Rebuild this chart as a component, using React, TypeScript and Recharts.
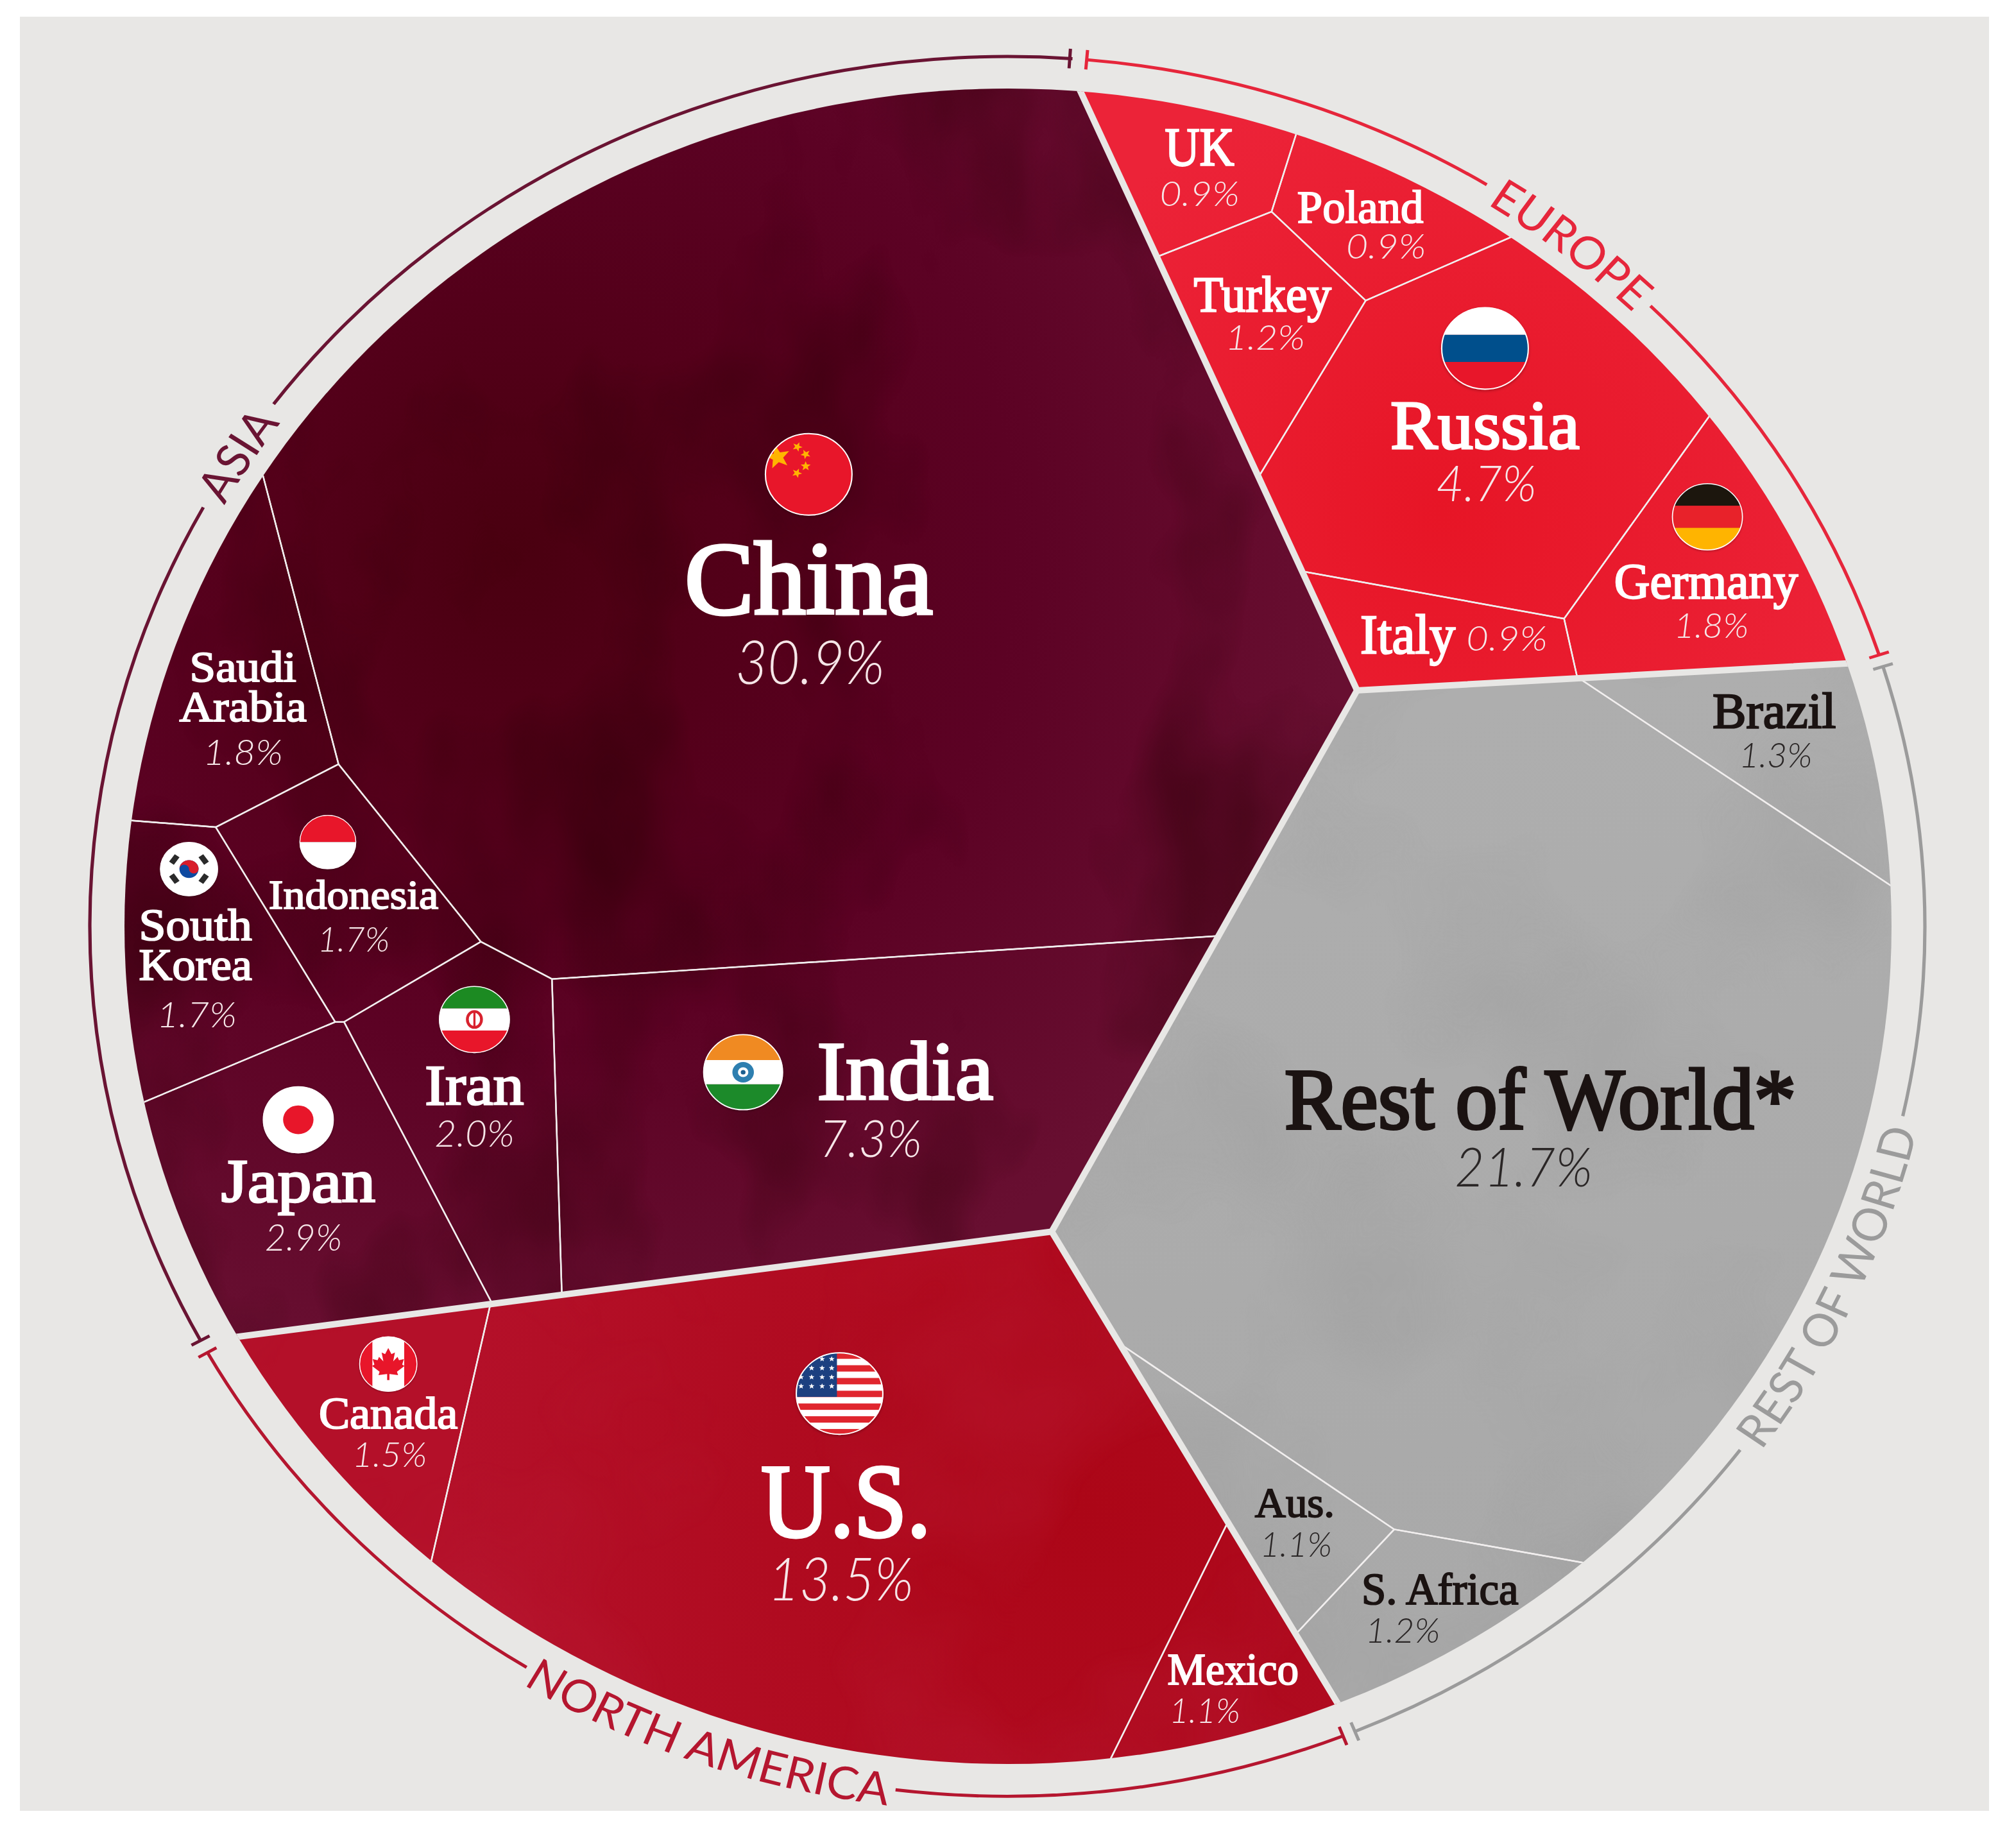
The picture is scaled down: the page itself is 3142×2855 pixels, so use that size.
import { Cell, Pie, PieChart, Scatter, ScatterChart, XAxis, YAxis } from "recharts";

// Values. Outline points are in reference units (1568 x 1425 grid).
const countries = [
  "China", "India", "Japan", "Iran", "Indonesia", "South Korea", "Saudi Arabia",
  "U.S.", "Canada", "Mexico",
  "Russia", "Germany", "Turkey", "UK", "Poland", "Italy",
  "Rest of World", "Brazil", "S. Africa", "Aus.",
];
const shares = [30.9, 7.3, 2.9, 2.0, 1.7, 1.7, 1.8, 13.5, 1.5, 1.1, 4.7, 1.8, 1.2, 0.9, 0.9, 0.9, 21.7, 1.3, 1.2, 1.1];
const regionOf = [
  "asia", "asia", "asia", "asia", "asia", "asia", "asia",
  "northAmerica", "northAmerica", "northAmerica",
  "europe", "europe", "europe", "europe", "europe", "europe",
  "world", "world", "world", "world",
];

const cellOutlines = [
  [[826, 40], [1055.5, 537], [947.8, 728], [429.3, 761.5], [374, 732.5], [263.3, 594.4], [196.7, 340], [100, 100]],
  [[429.3, 761.5], [947.8, 728], [818, 958], [437, 1007.2]],
  [[60, 879], [260.7, 794.9], [267.6, 794.9], [382.9, 1014.2], [100, 1050.7]],
  [[374, 732.5], [429.3, 761.5], [437, 1007.2], [382.9, 1014.2], [267.6, 794.9]],
  [[263.3, 594.4], [374, 732.5], [267.6, 794.9], [260.7, 794.9], [167.8, 643.4]],
  [[167.8, 643.4], [260.7, 794.9], [60, 879], [60, 635], [101.1, 638.1]],
  [[196.7, 340], [263.3, 594.4], [167.8, 643.4], [101.1, 638.1], [60, 635], [60, 340]],
  [[381.4, 1014.6], [818, 958], [955, 1184], [848, 1400], [324.9, 1400], [324.9, 1260]],
  [[100, 1050.7], [381.4, 1014.6], [324.9, 1260], [100, 1260]],
  [[955, 1184], [1098, 1420], [848, 1400]],
  [[980, 369.2], [1062.2, 233.8], [1230, 160.5], [1368, 160.5], [1368, 270], [1216.5, 481.2], [1012.8, 444.4]],
  [[1216.5, 481.2], [1368, 270], [1520, 270], [1520, 511.5], [1226.9, 527.6]],
  [[900, 199.7], [989, 164.6], [1062.2, 233.8], [980, 369.2]],
  [[826, 40], [1019, 40], [1019, 70], [989, 164.6], [900, 199.7]],
  [[1019, 70], [1230, 70], [1230, 160.5], [1062.2, 233.8], [989, 164.6]],
  [[1012.8, 444.4], [1216.5, 481.2], [1226.9, 527.6], [1055.5, 537]],
  [[1055.5, 537], [1228, 527.5], [1520, 721.7], [1520, 1227.6], [1300, 1227.6], [1084.4, 1189.6], [870.8, 1045], [818, 958]],
  [[1228, 527.5], [1520, 511.5], [1520, 721.7]],
  [[1084.4, 1189.6], [1300, 1227.6], [1300, 1420], [1098, 1420], [1008, 1270.9]],
  [[870.8, 1045], [1084.4, 1189.6], [1008, 1270.9]],
];

const regionBorders = [
  [[826, 40], [1055.5, 537], [1520, 511.5]],
  [[1055.5, 537], [818, 958]],
  [[100, 1050.7], [818, 958], [1098, 1420]],
];

// x, baseline y, drawn width (reference units), font size in px
const nameRows = [
  { text: "China", x: 629, y: 477, w: 193, px: 162 },
  { text: "India", x: 704, y: 855, w: 137, px: 130 },
  { text: "Japan", x: 232, y: 935, w: 120, px: 96 },
  { text: "Iran", x: 369, y: 859, w: 77, px: 88 },
  { text: "Indonesia", x: 275, y: 707, w: 132, px: 64 },
  { text: "South", x: 152, y: 731, w: 88, px: 70 },
  { text: "Korea", x: 152, y: 762, w: 88, px: 70 },
  { text: "Saudi", x: 189, y: 530, w: 83, px: 68 },
  { text: "Arabia", x: 189, y: 561, w: 99, px: 68 },
  { text: "U.S.", x: 658, y: 1195, w: 132, px: 164 },
  { text: "Canada", x: 302, y: 1111, w: 108, px: 70 },
  { text: "Mexico", x: 959, y: 1310, w: 102, px: 70 },
  { text: "Russia", x: 1155, y: 349, w: 147, px: 108 },
  { text: "Germany", x: 1327, y: 465, w: 143, px: 78 },
  { text: "Turkey", x: 982, y: 242, w: 107, px: 78 },
  { text: "UK", x: 933, y: 129, w: 54, px: 84 },
  { text: "Poland", x: 1058, y: 173, w: 98, px: 72 },
  { text: "Italy", x: 1095, y: 508, w: 74, px: 86 },
  { text: "Rest of World*", x: 1198, y: 878, w: 398, px: 136 },
  { text: "Brazil", x: 1380, y: 566, w: 96, px: 78 },
  { text: "S. Africa", x: 1120, y: 1248, w: 122, px: 70 },
  { text: "Aus.", x: 1007, y: 1180, w: 62, px: 66 },
];
const shareSpots = [
  { x: 630, y: 532, w: 116, px: 94 },
  { x: 677, y: 900, w: 80, px: 80 },
  { x: 236, y: 973, w: 60, px: 58 },
  { x: 369, y: 892, w: 62, px: 58 },
  { x: 275, y: 740, w: 56, px: 54 },
  { x: 153, y: 799, w: 62, px: 56 },
  { x: 189, y: 595, w: 62, px: 56 },
  { x: 654, y: 1245, w: 113, px: 92 },
  { x: 303, y: 1141, w: 58, px: 54 },
  { x: 937, y: 1340, w: 55, px: 54 },
  { x: 1156, y: 390, w: 78, px: 76 },
  { x: 1331, y: 496, w: 58, px: 54 },
  { x: 984, y: 272, w: 62, px: 54 },
  { x: 933, y: 160, w: 62, px: 54 },
  { x: 1078, y: 201, w: 62, px: 54 },
  { x: 1172, y: 506, w: 63, px: 54 },
  { x: 1185, y: 923, w: 107, px: 84 },
  { x: 1381, y: 597, w: 57, px: 54 },
  { x: 1091, y: 1278, w: 58, px: 54 },
  { x: 1008, y: 1211, w: 56, px: 54 },
];

const flagSpots = [
  { flag: "china", x: 629, y: 369, rx: 34, ry: 32 },
  { flag: "india", x: 578, y: 834, rx: 31, ry: 29.5 },
  { flag: "japan", x: 232, y: 871, rx: 27.5, ry: 26 },
  { flag: "iran", x: 369, y: 793, rx: 27.5, ry: 26 },
  { flag: "indonesia", x: 255, y: 655, rx: 22, ry: 21 },
  { flag: "korea", x: 147, y: 676, rx: 22.5, ry: 21 },
  { flag: "us", x: 653, y: 1084, rx: 34, ry: 32 },
  { flag: "canada", x: 302, y: 1061, rx: 22.5, ry: 21.5 },
  { flag: "russia", x: 1155, y: 271, rx: 34, ry: 32 },
  { flag: "germany", x: 1328, y: 402, rx: 27.5, ry: 26 },
];

// ring spans in degrees, clockwise from 4.96deg past the top; null = gap
const ringRegions = ["europe", null, "europe", null, "world", null, "world", null, "northAmerica", null, "northAmerica", null, "asia", null, "asia", null];
const ringSpans = [26.54, 13, 27.3, 0.8, 30, 24.4, 30.7, 0.8, 28.5, 24.6, 29, 0.9, 57.3, 8.1, 57.17, 0.89];

// tick marks at the arc ends, same start angle
const tickRegions = ["europe", null, "europe", null, "world", null, "world", null, "northAmerica", null, "northAmerica", null, "asia", null, "asia", null];
const tickSpans = [0.2, 66.64, 0.2, 0.6, 0.2, 84.9, 0.2, 0.6, 0.2, 81.9, 0.2, 0.7, 0.2, 122.1, 0.2, 0.86];

const ringColors = { asia: "#6a1433", europe: "#e6263b", northAmerica: "#b5162f", world: "#9b9b9b" };
const cellFills = { asia: "url(#asiaFill)", europe: "url(#europeFill)", northAmerica: "url(#naFill)", world: "url(#worldFill)" };
const cellFilters = { asia: "url(#smokeDark)", europe: undefined, northAmerica: "url(#smokeRed)", world: "url(#smokeGrey)" };

const regionLabels = [
  { id: "lblEurope", text: "EUROPE", from: 31.5, to: 44.7, outward: true, color: ringColors.europe },
  { id: "lblWorld", text: "REST OF WORLD", from: 102.6, to: 127, outward: false, color: ringColors.world },
  { id: "lblNa", text: "NORTH AMERICA", from: 187, to: 211.6, outward: false, color: ringColors.northAmerica },
  { id: "lblAsia", text: "ASIA", from: 298.8, to: 306.9, outward: true, color: ringColors.asia },
];

const WIDTH = 3142;
const HEIGHT = 2855;
const UNIT = WIDTH / 1568;
const RING_R = 1430;
const RING_CX = 1570;
const RING_CY = 1570;
const SERIF = "'Liberation Serif', 'DejaVu Serif', serif";
const SANS = "Lato, 'Open Sans', sans-serif";

const points = (outline: number[][]) => outline.map(([x, y]) => ({ x, y }));
const noDot = () => <g />;

const starPoints = (cx: number, cy: number, r: number, turn = 0) => {
  const pts = [];
  for (let i = 0; i < 10; i++) {
    const rad = i % 2 ? r * 0.42 : r;
    const a = -Math.PI / 2 + turn + (i * Math.PI) / 5;
    pts.push(`${cx + rad * Math.cos(a)},${cy + rad * Math.sin(a)}`);
  }
  return pts.join(" ");
};

const FlagArt = ({ flag }: { flag: string }) => {
  if (flag === "china")
    return (
      <g>
        <rect x={-100} y={-100} width={200} height={200} fill="#e8182c" />
        <polygon points={starPoints(-71, -42, 30, -0.2)} fill="#ffb400" />
        <polygon points={starPoints(-26, -67, 12, 0.4)} fill="#ffb400" />
        <polygon points={starPoints(-7, -49, 12, 0.8)} fill="#ffb400" />
        <polygon points={starPoints(-7, -20, 12, 0)} fill="#ffb400" />
        <polygon points={starPoints(-27, -3, 12, 0.4)} fill="#ffb400" />
      </g>
    );
  if (flag === "india")
    return (
      <g>
        <rect x={-100} y={-100} width={200} height={68} fill="#f08a24" />
        <rect x={-100} y={-32} width={200} height={64} fill="#ffffff" />
        <rect x={-100} y={32} width={200} height={68} fill="#1c8a2c" />
        <circle r={27} fill="#2f7fb0" />
        <circle r={13} fill="#ffffff" />
        <circle r={6} fill="#1b5f90" />
      </g>
    );
  if (flag === "japan")
    return (
      <g>
        <rect x={-100} y={-100} width={200} height={200} fill="#ffffff" />
        <circle r={43} fill="#e8182c" />
      </g>
    );
  if (flag === "iran")
    return (
      <g>
        <rect x={-100} y={-100} width={200} height={67} fill="#1f8a22" />
        <rect x={-100} y={-33} width={200} height={66} fill="#ffffff" />
        <rect x={-100} y={33} width={200} height={67} fill="#e8182c" />
        <ellipse rx={20} ry={24} fill="none" stroke="#d8202f" strokeWidth={8} />
        <rect x={-3} y={-24} width={6} height={48} fill="#d8202f" />
      </g>
    );
  if (flag === "indonesia")
    return (
      <g>
        <rect x={-100} y={-100} width={200} height={100} fill="#e8182c" />
        <rect x={-100} y={0} width={200} height={100} fill="#ffffff" />
      </g>
    );
  if (flag === "korea")
    return (
      <g>
        <rect x={-100} y={-100} width={200} height={200} fill="#ffffff" />
        <circle r={33} fill="#0b4aa0" />
        <path d="M-33 0A33 33 0 0 1 33 0A16.5 16.5 0 0 1 0 0A16.5 16.5 0 0 0 -33 0Z" fill="#d81e2c" />
        {[-55, 55, 125, 235].map((a) => (
          <g key={a} transform={`rotate(${a}) translate(0 -62)`}>
            <rect x={-17} y={-10} width={34} height={20} fill="#2a2a2a" />
          </g>
        ))}
      </g>
    );
  if (flag === "us")
    return (
      <g>
        <rect x={-100} y={-100} width={200} height={200} fill="#ffffff" />
        {[-100, -69, -38, -7, 24, 55, 86].map((y) => (
          <rect key={y} x={-100} y={y} width={200} height={15.5} fill="#e0282f" />
        ))}
        <rect x={-100} y={-100} width={94} height={108} fill="#1d3f80" />
        {[-84, -62, -40, -18].map((y) =>
          [-88, -64, -40, -18].map((x) => <polygon key={`${x}${y}`} points={starPoints(x, y, 7)} fill="#ffffff" />)
        )}
      </g>
    );
  if (flag === "canada")
    return (
      <g>
        <rect x={-100} y={-100} width={200} height={200} fill="#ffffff" />
        <rect x={-100} y={-100} width={45} height={200} fill="#e8182c" />
        <rect x={55} y={-100} width={45} height={200} fill="#e8182c" />
        <polygon
          points="0,-58 11,-36 23,-42 17,-10 32,-26 37,-14 54,-18 48,2 56,7 30,28 34,40 4,36 4,58 -4,58 -4,36 -34,40 -30,28 -56,7 -48,2 -54,-18 -37,-14 -32,-26 -17,-10 -23,-42 -11,-36"
          fill="#e8182c"
        />
      </g>
    );
  if (flag === "russia")
    return (
      <g>
        <rect x={-100} y={-100} width={200} height={67} fill="#ffffff" />
        <rect x={-100} y={-33} width={200} height={66} fill="#00508c" />
        <rect x={-100} y={33} width={200} height={67} fill="#e8182c" />
      </g>
    );
  return (
    <g>
      <rect x={-100} y={-100} width={200} height={67} fill="#1c1311" />
      <rect x={-100} y={-33} width={200} height={66} fill="#e8242c" />
      <rect x={-100} y={33} width={200} height={67} fill="#ffb400" />
    </g>
  );
};

const FlagShape = (props: any) => {
  const { cx, cy, payload } = props;
  const sx = (payload.rx * UNIT) / 100;
  const sy = (payload.ry * UNIT) / 100;
  return (
    <g transform={`translate(${cx} ${cy}) scale(${sx} ${sy})`} filter="url(#flagShadow)">
      <g clipPath="url(#flagDisc)">
        <FlagArt flag={payload.flag} />
      </g>
      <circle r={99} fill="none" stroke="#ffffff" strokeWidth={3} />
    </g>
  );
};

const NameShape = (props: any) => {
  const { cx, cy, payload } = props;
  return (
    <text
      x={cx}
      y={cy}
      textAnchor="middle"
      fontFamily={SERIF}
      fontWeight={400}
      fontSize={payload.px}
      fill={payload.ink}
      stroke={payload.ink}
      strokeWidth={payload.px * 0.03}
      textLength={payload.w * UNIT}
      lengthAdjust="spacingAndGlyphs"
    >
      {payload.text}
    </text>
  );
};

const ShareShape = (props: any) => {
  const { cx, cy, payload } = props;
  return (
    <text
      x={cx}
      y={cy}
      textAnchor="middle"
      fontFamily={SANS}
      fontWeight={300}
      fontStyle="italic"
      fontSize={payload.px}
      fill={payload.ink}
      textLength={payload.w * UNIT}
      lengthAdjust="spacingAndGlyphs"
    >
      {payload.text}
    </text>
  );
};

const darkInk = (text: string) => ["Rest of World*", "Brazil", "S. Africa", "Aus."].includes(text);
const nameData = nameRows.map((r) => ({ ...r, ink: darkInk(r.text) ? "#1b1312" : "#ffffff" }));
const shareData = shareSpots.map((s, i) => ({
  ...s,
  text: `${shares[i].toFixed(1)}%`,
  ink: regionOf[i] === "world" ? "#2a2626" : "#f6e6e8",
}));

// arc helper for the curved region names, angles clockwise from the top
const arcPath = (r: number, from: number, to: number) => {
  const pt = (deg: number) => {
    const a = (deg * Math.PI) / 180;
    return `${RING_CX + r * Math.sin(a)} ${RING_CY - r * Math.cos(a)}`;
  };
  return `M${pt(from)}A${r} ${r} 0 0 ${to > from ? 1 : 0} ${pt(to)}`;
};

const Defs = () => (
  <svg width={0} height={0} style={{ position: "absolute" }}>
    <defs>
      <clipPath id="disc">
        <ellipse cx={1571} cy={1443.5} rx={1377} ry={1305.5} />
      </clipPath>
      <clipPath id="flagDisc">
        <circle r={100} />
      </clipPath>
      <radialGradient id="asiaFill" gradientUnits="userSpaceOnUse" cx={800} cy={850} r={1300}>
        <stop offset="0" stopColor="#4a0010" />
        <stop offset="0.3" stopColor="#54001a" />
        <stop offset="0.6" stopColor="#5c0224" />
        <stop offset="1" stopColor="#680f31" />
      </radialGradient>
      <radialGradient id="europeFill" gradientUnits="userSpaceOnUse" cx={2250} cy={800} r={700}>
        <stop offset="0" stopColor="#e71526" />
        <stop offset="1" stopColor="#ec2338" />
      </radialGradient>
      <radialGradient id="naFill" gradientUnits="userSpaceOnUse" cx={1700} cy={2350} r={1000}>
        <stop offset="0" stopColor="#ac0617" />
        <stop offset="1" stopColor="#b41029" />
      </radialGradient>
      <linearGradient id="worldFill" gradientUnits="userSpaceOnUse" x1={2300} y1={1100} x2={2500} y2={2500}>
        <stop offset="0" stopColor="#aeaeae" />
        <stop offset="1" stopColor="#a9a9a9" />
      </linearGradient>
      <filter id="smokeDark" x="0" y="0" width="100%" height="100%" colorInterpolationFilters="sRGB">
        <feTurbulence type="fractalNoise" baseFrequency="0.0028 0.0018" numOctaves={4} seed={23} result="noise" />
        <feColorMatrix
          in="noise"
          type="matrix"
          values="0 0 0 0 0.18  0 0 0 0 0  0 0 0 0 0.03  1.7 0 0 0 -0.86"
          result="shade"
        />
        <feComposite in="shade" in2="SourceAlpha" operator="in" result="clipped" />
        <feMerge>
          <feMergeNode in="SourceGraphic" />
          <feMergeNode in="clipped" />
        </feMerge>
      </filter>
      <filter id="smokeRed" x="0" y="0" width="100%" height="100%" colorInterpolationFilters="sRGB">
        <feTurbulence type="fractalNoise" baseFrequency="0.003" numOctaves={3} seed={4} result="noise" />
        <feColorMatrix in="noise" type="matrix" values="0 0 0 0 0.72  0 0 0 0 0.1  0 0 0 0 0.2  1.2 0 0 0 -0.54" result="shade" />
        <feComposite in="shade" in2="SourceAlpha" operator="in" result="clipped" />
        <feMerge>
          <feMergeNode in="SourceGraphic" />
          <feMergeNode in="clipped" />
        </feMerge>
      </filter>
      <filter id="smokeGrey" x="0" y="0" width="100%" height="100%" colorInterpolationFilters="sRGB">
        <feTurbulence type="fractalNoise" baseFrequency="0.003" numOctaves={3} seed={9} result="noise" />
        <feColorMatrix in="noise" type="matrix" values="0 0 0 0 0.55  0 0 0 0 0.55  0 0 0 0 0.55  0.5 0 0 0 -0.22" result="shade" />
        <feComposite in="shade" in2="SourceAlpha" operator="in" result="clipped" />
        <feMerge>
          <feMergeNode in="SourceGraphic" />
          <feMergeNode in="clipped" />
        </feMerge>
      </filter>
      <filter id="flagShadow" x="-20%" y="-20%" width="140%" height="140%">
        <feDropShadow dx={0} dy={3} stdDeviation={3} floodColor="#000000" floodOpacity={0.25} />
      </filter>
    </defs>
  </svg>
);

const RingChart = () => (
  <div style={{ position: "absolute", left: 0, top: 0, transformOrigin: "0 0", transform: "translateY(-44.7px) scaleY(0.948)" }}>
    <PieChart width={WIDTH} height={WIDTH} margin={{ top: 0, right: 0, bottom: 0, left: 0 }}>
      <Pie
        data={ringSpans.map((value, i) => ({ name: ringRegions[i] ?? "gap", value }))}
        dataKey="value"
        cx={RING_CX}
        cy={RING_CY}
        innerRadius={RING_R - 2.6}
        outerRadius={RING_R + 2.6}
        startAngle={90 - 4.96}
        endAngle={90 - 4.96 - 360}
        stroke="none"
        isAnimationActive={false}
      >
        {ringRegions.map((r, i) => (
          <Cell key={i} fill={r ? ringColors[r] : "transparent"} />
        ))}
      </Pie>
      <Pie
        data={tickSpans.map((value, i) => ({ name: tickRegions[i] ?? "gap", value }))}
        dataKey="value"
        cx={RING_CX}
        cy={RING_CY}
        innerRadius={RING_R - 16}
        outerRadius={RING_R + 16}
        startAngle={90 - 4.86}
        endAngle={90 - 4.86 - 360}
        stroke="none"
        isAnimationActive={false}
      >
        {tickRegions.map((r, i) => (
          <Cell key={i} fill={r ? ringColors[r] : "transparent"} />
        ))}
      </Pie>
    </PieChart>
    <svg width={WIDTH} height={WIDTH} style={{ position: "absolute", left: 0, top: 0 }}>
      {regionLabels.map((l) => (
        <g key={l.id}>
          <path
            id={l.id}
            fill="none"
            d={l.outward ? arcPath(RING_R - 27, l.from, l.to) : arcPath(RING_R + 27, l.to, l.from)}
          />
          <text fontFamily={SANS} fontSize={74} fill={l.color}>
            <textPath href={`#${l.id}`} startOffset="50%" textAnchor="middle">
              {l.text}
            </textPath>
          </text>
        </g>
      ))}
    </svg>
  </div>
);

export default function App() {
  return (
    <div style={{ position: "absolute", left: 0, top: 0, width: WIDTH, height: HEIGHT, overflow: "hidden", background: "#ffffff" }}>
      <div style={{ position: "absolute", left: 31, top: 26, width: 3069, height: 2796, background: "#e8e7e5" }} />
      <Defs />
      <div style={{ position: "absolute", left: 0, top: 0 }}>
        <ScatterChart width={WIDTH} height={HEIGHT} margin={{ top: 0, right: 0, bottom: 0, left: 0 }}>
          <XAxis type="number" dataKey="x" domain={[0, 1568]} hide />
          <YAxis type="number" dataKey="y" domain={[0, 1425]} reversed hide />
          {cellOutlines.map((outline, i) => (
            <Scatter
              key={countries[i]}
              name={countries[i]}
              data={points([...outline, outline[0]])}
              shape={noDot}
              line={{
                fill: cellFills[regionOf[i]],
                stroke: "none",
                filter: cellFilters[regionOf[i]],
                clipPath: "url(#disc)",
              }}
              isAnimationActive={false}
            />
          ))}
          {cellOutlines.map((outline, i) => (
            <Scatter
              key={`${countries[i]} edge`}
              data={points([...outline, outline[0]])}
              shape={noDot}
              line={{ fill: "none", stroke: "#f1eeee", strokeWidth: 2.4, clipPath: "url(#disc)" }}
              isAnimationActive={false}
            />
          ))}
          {regionBorders.map((border, i) => (
            <Scatter
              key={`border ${i}`}
              data={points(border)}
              shape={noDot}
              line={{ fill: "none", stroke: "#e8e7e5", strokeWidth: 10, clipPath: "url(#disc)" }}
              isAnimationActive={false}
            />
          ))}
          <Scatter data={flagSpots} shape={FlagShape} isAnimationActive={false} />
          <Scatter data={nameData} shape={NameShape} isAnimationActive={false} />
          <Scatter data={shareData} shape={ShareShape} isAnimationActive={false} />
        </ScatterChart>
      </div>
      <RingChart />
    </div>
  );
}
